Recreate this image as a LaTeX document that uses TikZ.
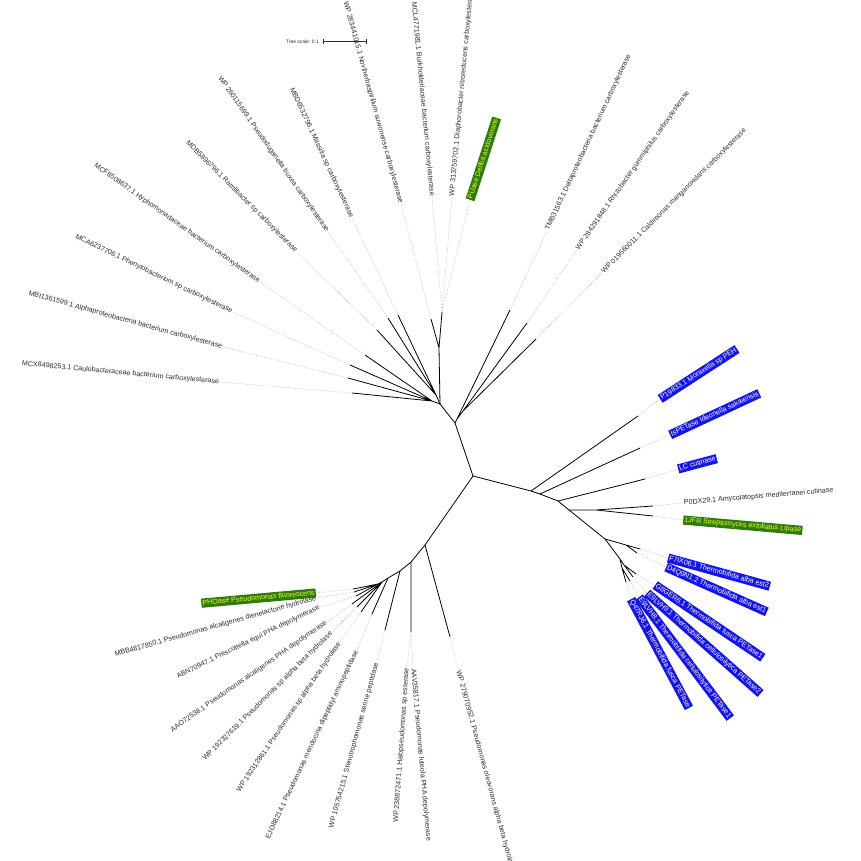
\documentclass[tikz,border=0pt]{standalone}
\usepackage{fontspec}
\setmainfont{Liberation Sans}
\definecolor{labgray}{HTML}{2B2B33}
\definecolor{boxblue}{HTML}{1414EE}
\definecolor{boxgreen}{HTML}{2E7B0E}
\definecolor{boxyellow}{HTML}{EEFF22}
\definecolor{dotgray}{HTML}{A0A0A0}
\tikzset{every node/.style={font=\fontsize{7.1}{8}\selectfont},
leaf/.style={text=labgray, inner sep=0.8pt},
bluebox/.style={fill=boxblue, text=white, inner sep=1.2pt, text height=5.3pt, text depth=1.5pt},
greenbox/.style={fill=boxgreen, text=boxyellow, inner sep=1.2pt, text height=5.3pt, text depth=1.5pt},
branch/.style={line width=0.8pt, line join=round},
dotline/.style={dotgray, densely dotted, line width=0.45pt}}

\begin{document}
\begin{tikzpicture}[x=1pt,y=-1pt]
\useasboundingbox (0,0) rectangle (861,861);

% inner nodes of the tree
\coordinate (C)   at (473,476);
\coordinate (A)   at (455,423);
\coordinate (N1)  at (440,404);
\coordinate (N2)  at (457,419);
\coordinate (N3)  at (463,411);
\coordinate (N4)  at (439,348);
\coordinate (N5)  at (442,312);
\coordinate (N6)  at (432,401);
\coordinate (N7)  at (436,395);
\coordinate (R1)  at (531,491);
\coordinate (R2)  at (540,494);
\coordinate (R3)  at (558,501);
\coordinate (R4)  at (569,510);
\coordinate (R4a) at (596,510);
\coordinate (R5)  at (605,539);
\coordinate (RF)  at (626,545);
\coordinate (R6)  at (620,559);
\coordinate (R7)  at (624,565);
\coordinate (R8)  at (622,568);
\coordinate (B1)  at (425,545);
\coordinate (B2)  at (411,562);
\coordinate (B2a) at (411,632);
\coordinate (B3)  at (400,571);
\coordinate (B4)  at (388,578);
\coordinate (B5)  at (382,582);
\coordinate (B6)  at (378,584);

% ends of the solid leaf branches
\coordinate (eTMB) at (510,310);
\coordinate (eRhi) at (527,323);
\coordinate (eCal) at (536,339);
\coordinate (eNov) at (431,319);
\coordinate (eMas) at (398,315);
\coordinate (ePse) at (388,318);
\coordinate (eRam) at (377,330);
\coordinate (eHyp) at (365,355);
\coordinate (ePhe) at (350,365);
\coordinate (eAlp) at (348,378);
\coordinate (eCau) at (352,393);
\coordinate (eMor) at (638,416);
\coordinate (eIde) at (640,448);
\coordinate (eLC)  at (645,479);
\coordinate (eAmy) at (653,506);
\coordinate (eStr) at (653,516);
\coordinate (eAl2) at (640,549);
\coordinate (eAl1) at (637,553);
\coordinate (eFu1) at (636,574);
\coordinate (eCe2) at (633,577);
\coordinate (eCe1) at (630,581);
\coordinate (eFu0) at (626,582);
\coordinate (eOle) at (450,637);
\coordinate (eSte) at (385,630);
\coordinate (eMen) at (372,614);
\coordinate (eHy1) at (361,612);
\coordinate (eHy2) at (357,607);
\coordinate (eAAO) at (352,604);
\coordinate (eEqu) at (356,596);
\coordinate (eDie) at (354,592);
\coordinate (ePHO) at (353,589);

% labels, upper part
\node[leaf,anchor=west,rotate=65]    (TMB) at (547,231) {TMB31563.1 Deltaproteobacteria bacterium carboxylesterase};
\node[leaf,anchor=west,rotate=55]    (Rhi) at (577,250) {WP 284291848.1 Rhizobacter gummiphilus carboxylesterase};
\node[leaf,anchor=west,rotate=45]    (Cal) at (602,273) {WP 019560011.1 Caldimonas manganoxidans carboxylesterase};
\node[leaf,anchor=east,rotate=-74.6] (Nov) at (401,204) {WP 283441015.1 Noviherbaspirillum suwonense carboxylesterase};
\node[leaf,anchor=east,rotate=-84.6] (MCL) at (432,197) {MCL4771981.1 Burkholderiaceae bacterium carboxylesterase};
\node[leaf,anchor=west,rotate=84.7]  (Dia) at (452,197) {WP 313759702.1 Diaphorobacter nitroreducens carboxylesterase};
\node[greenbox,anchor=west,rotate=72] (PUa) at (470,200) {PUase Delftia acidovorans};
\node[leaf,anchor=east,rotate=-65]   (Mas) at (352,218) {MBD6532796.1 Massilia sp carboxylesterase};
\node[leaf,anchor=east,rotate=-55]   (Pse) at (328,232) {WP 260115699.1 Pseudoduganella buxea carboxylesterase};
\node[leaf,anchor=east,rotate=-45]   (Ram) at (297,252) {MDB5896796.1 Ramlibacter sp carboxylesterase};
\node[leaf,anchor=east,rotate=-35.3] (Hyp) at (260,282) {MCF8508637.1 Hyphomonadaceae bacterium carboxylesterase};
\node[leaf,anchor=east,rotate=-25.6] (Phe) at (233,312) {MCA6237706.1 Phenylobacterium sp carboxylesterase};
\node[leaf,anchor=east,rotate=-15.4] (Alp) at (223,347) {MBI1361599.1 Alphaproteobacteria bacterium carboxylesterase};
\node[leaf,anchor=east,rotate=-5.3]  (Cau) at (220,382) {MCX8498253.1 Caulobacteraceae bacterium carboxylesterase};

% labels, right part
\node[bluebox,anchor=west,rotate=33]  (Mor) at (660,399) {P19833.1 Moraxella sp PEH};
\node[bluebox,anchor=west,rotate=25]  (Ide) at (670,435) {IsPETase Ideonella sakaiensis};
\node[bluebox,anchor=west,rotate=15]  (LC)  at (678,469) {LC cutinase};
\node[leaf,anchor=west,rotate=4.8]    (Amy) at (683,503) {P0DX29.1 Amycolatopsis mediterranei cutinase};
\node[greenbox,anchor=west,rotate=-5] (Str) at (683,520) {1JFR Streptomyces exfoliatus Lipase};
\node[bluebox,anchor=west,rotate=-62]   (Fu0) at (631,599) {Q47RJ6.1 Thermobifida fusca PETase};
\node[bluebox,anchor=west,rotate=-53]   (Ce1) at (639,597) {E9LVH8.1 Thermobifida cellulosilytica PETase1};
\node[bluebox,anchor=west,rotate=-41.5] (Ce2) at (647,593) {E9LVH9.1 Thermobifida cellulosilytica PETase2};
\node[bluebox,anchor=west,rotate=-34]   (Fu1) at (655,585) {G8GER6.1 Thermobifida fusca PETase1};
\node[bluebox,anchor=west,rotate=-24]   (Al1) at (666,567) {D4Q9N1.2 Thermobifida alba est1};
\node[bluebox,anchor=west,rotate=-15.5] (Al2) at (668,558) {F7IX06.1 Thermobifida alba est2};

% labels, lower part
\node[leaf,anchor=west,rotate=-74.8] (Ole) at (458,670) {WP 279070952.1 Pseudomonas oleovorans alpha beta hydrolase};
\node[leaf,anchor=east,rotate=86]    (Hal) at (407,667) {WP 238872471.1 Halopseudomonas sp esterase};
\node[leaf,anchor=west,rotate=-84.9] (Lut) at (413,668) {AAV35817.1 Pseudomonas luteola PHA depolymerase};
\node[leaf,anchor=east,rotate=74.6]  (Ste) at (377,662) {WP 105754215.1 Stenotrophomonas serine peptidase};
\node[leaf,anchor=east,rotate=64.7]  (Men) at (357,650) {EJO88214.1 Pseudomonas mendocina dipeptidyl aminopeptidase};
\node[leaf,anchor=east,rotate=55.7]  (Hy1) at (340,642) {WP 192312861.1 Pseudomonas sp alpha beta hydrolase};
\node[leaf,anchor=east,rotate=44.9]  (Hy2) at (332,632) {WP 192327619.1 Pseudomonas sp alpha beta hydrolase};
\node[leaf,anchor=east,rotate=34.9]  (AAO) at (327,622) {AAO72538.1 Pseudomonas alcaligenes PHA depolymerase};
\node[leaf,anchor=east,rotate=26.1]  (Equ) at (320,607) {ABN70947.1 Prescottella equi PHA depolymerase};
\node[leaf,anchor=east,rotate=15.7]  (Die) at (317,598) {MBB4817850.1 Pseudomonas alcaligenes dienelactone hydrolase};
\node[greenbox,anchor=east,rotate=5.1] (PHO) at (316,593) {PHOase Pseudomonas fluorescens};

% tree scale
\coordinate (sc1) at (323,41.5);
\coordinate (sc2) at (366,41.5);
\node[font=\fontsize{4.9}{5}\selectfont, text=labgray, anchor=east, inner sep=0pt] (scl) at (319,41.5) {Tree scale: 0.1};
\draw[labgray, line width=0.7pt] (sc1) -- (sc2)
  (sc1) ++(0,-2.5) -- ++(0,5) (sc2) ++(0,-2.5) -- ++(0,5);

\begin{scope}[dotline]
\draw (eTMB) -- (TMB.west) (eRhi) -- (Rhi.west) (eCal) -- (Cal.west);
\draw (eNov) -- (Nov.east) (N5) -- (MCL.east) (N5) -- (Dia.west) (N5) -- (PUa.west);
\draw (eMas) -- (Mas.east) (ePse) -- (Pse.east) (eRam) -- (Ram.east)
      (eHyp) -- (Hyp.east) (ePhe) -- (Phe.east) (eAlp) -- (Alp.east) (eCau) -- (Cau.east);
\draw (eMor) -- (Mor.west) (eIde) -- (Ide.west) (eLC) -- (LC.west)
      (eAmy) -- (Amy.west) (eStr) -- (Str.west);
\draw (eAl2) -- (Al2.west) (eAl1) -- (Al1.west) (eFu1) -- (Fu1.west)
      (eCe2) -- (Ce2.west) (eCe1) -- (Ce1.west) (eFu0) -- (Fu0.west);
\draw (eOle) -- (Ole.west) (B2a) -- (Hal.east) (B2a) -- (Lut.west) (eSte) -- (Ste.east)
      (eMen) -- (Men.east) (eHy1) -- (Hy1.east) (eHy2) -- (Hy2.east) (eAAO) -- (AAO.east)
      (eEqu) -- (Equ.east) (eDie) -- (Die.east) (ePHO) -- (PHO.east);
\end{scope}

\begin{scope}[branch]
% upper part
\draw (C) -- (A) -- (N1) -- (N4) -- (N5) (N4) -- (eNov);
\draw (A) -- (N2) -- (eTMB) (N2) -- (N3) -- (eRhi) (N3) -- (eCal);
\draw (N1) -- (N7) (N7) -- (eMas) (N7) -- (ePse) (N7) -- (eRam);
\draw (N1) -- (N6) (N6) -- (eHyp) (N6) -- (ePhe) (N6) -- (eAlp) (N6) -- (eCau);
% right part
\draw (C) -- (R1) -- (R2) -- (R3) -- (R4) -- (R5) -- (R6);
\draw (R1) -- (eMor) (R2) -- (eIde) (R3) -- (eLC);
\draw (R4) -- (R4a) (R4a) -- (eAmy) (R4a) -- (eStr);
\draw (R5) -- (RF) (RF) -- (eAl2) (RF) -- (eAl1);
\draw (R6) -- (R7) (R7) -- (eFu1) (R7) -- (eCe2) (R6) -- (R8) (R8) -- (eCe1) (R8) -- (eFu0);
% lower part
\draw (C) -- (B1) -- (B2) -- (B3) -- (B4) -- (B5) -- (B6);
\draw (B1) -- (eOle) (B2) -- (B2a) (B3) -- (eSte) (B4) -- (eMen);
\draw (B5) -- (eHy1) (B5) -- (eHy2) (B5) -- (eAAO);
\draw (B6) -- (eEqu) (B6) -- (eDie) (B6) -- (ePHO);
\end{scope}
\end{tikzpicture}
\end{document}
